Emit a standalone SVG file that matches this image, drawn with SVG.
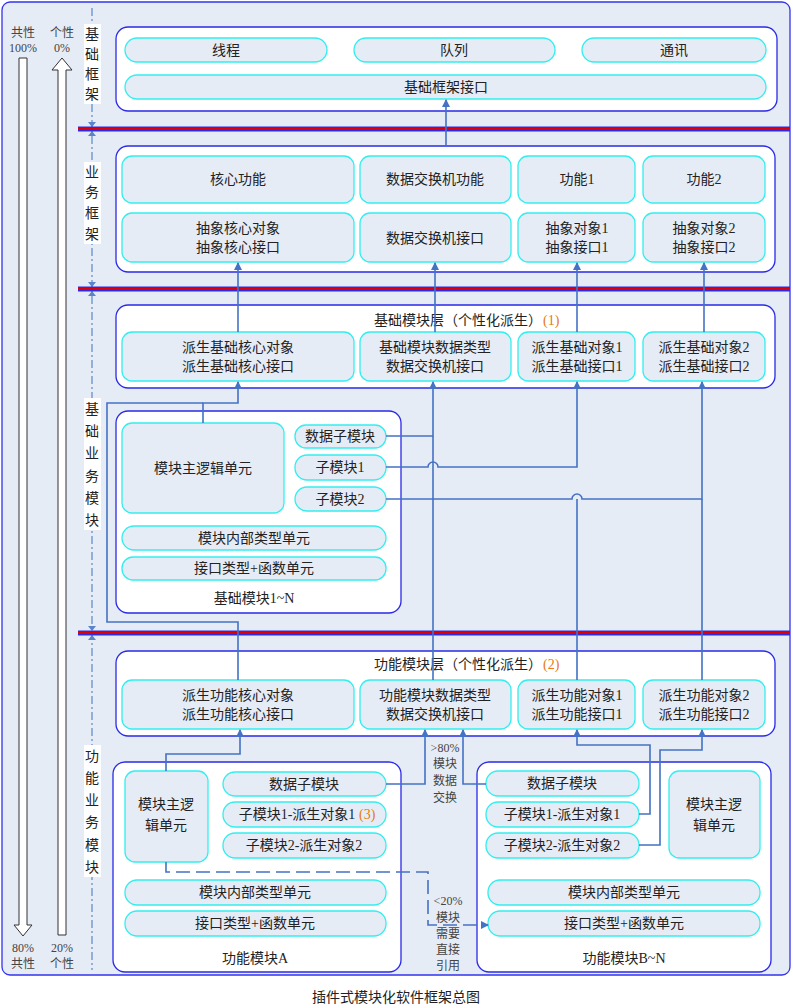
<svg xmlns="http://www.w3.org/2000/svg" width="793" height="1008" viewBox="0 0 793 1008">
<style>
text{font-family:"Liberation Serif","Noto Sans CJK SC",serif;font-size:14px;fill:#222;text-anchor:middle;dominant-baseline:central}
.sm{font-size:12px;fill:#444}
.lay{fill:#fff;stroke:#2a2ae8;stroke-width:1.3}
.bx{fill:#e6ecf6;stroke:#33eeee;stroke-width:1.3}
.c{fill:none;stroke:#4472c4;stroke-width:1.6}
.ca{fill:none;stroke:#4472c4;stroke-width:1.6;marker-end:url(#a)}
.or{fill:#e87a10;text-anchor:start}
.te{text-anchor:end}
.sepb{stroke:#2a2ae8;stroke-width:5}
.sepr{stroke:#e00000;stroke-width:2}
</style>
<defs><marker id="a" markerWidth="8" markerHeight="8" refX="7" refY="4" orient="auto" markerUnits="userSpaceOnUse"><path d="M0,0 L8,4 L0,8 Z" fill="#4472c4"/></marker></defs>
<rect x="2" y="2" width="788" height="973" rx="8" fill="#e6ecf6" stroke="#3333ee" stroke-width="1.3"/>
<text x="396" y="997">插件式模块化软件框架总图</text>
<g id="axis">
<path d="M19,58 H27 V925 H32 L23,936 L14,925 H19 Z" fill="#fff" stroke="#333"/>
<path d="M58,935 V70 H52 L62,58 L72,70 H66 V935 Z" fill="#fff" stroke="#333"/>
<text class="sm" x="23" y="33">共性</text><text class="sm" x="23" y="48">100%</text>
<text class="sm" x="62" y="33">个性</text><text class="sm" x="62" y="48">0%</text>
<text class="sm" x="23" y="948">80%</text><text class="sm" x="23" y="964">共性</text>
<text class="sm" x="62" y="948">20%</text><text class="sm" x="62" y="964">个性</text>
<line x1="92" y1="8" x2="92" y2="970" stroke="#5b85c8" stroke-width="1.2" stroke-dasharray="8,3,2,3"/>
<rect x="84" y="24" width="17" height="80" fill="#fff"/>
<text x="92" y="34">基</text><text x="92" y="54">础</text><text x="92" y="74">框</text><text x="92" y="94">架</text>
<rect x="84" y="162" width="17" height="82" fill="#fff"/>
<text x="92" y="172">业</text><text x="92" y="192">务</text><text x="92" y="213">框</text><text x="92" y="234">架</text>
<rect x="84" y="398" width="17" height="132" fill="#fff"/>
<text x="92" y="409">基</text><text x="92" y="431">础</text><text x="92" y="453">业</text><text x="92" y="476">务</text><text x="92" y="498">模</text><text x="92" y="520">块</text>
<rect x="84" y="745" width="17" height="132" fill="#fff"/>
<text x="92" y="756">功</text><text x="92" y="778">能</text><text x="92" y="800">业</text><text x="92" y="822">务</text><text x="92" y="845">模</text><text x="92" y="867">块</text>
<path d="M88,122 L96,122 L92,127Z M88,136 L96,136 L92,131Z M88,282 L96,282 L92,287Z M88,296 L96,296 L92,291Z M88,626 L96,626 L92,631Z M88,640 L96,640 L92,635Z" fill="#5b85c8"/>
</g>
<g id="separators">
<line class="sepb" x1="78" y1="129" x2="790" y2="129"/><line class="sepr" x1="78" y1="129" x2="790" y2="129"/>
<line class="sepb" x1="78" y1="289" x2="790" y2="289"/><line class="sepr" x1="78" y1="289" x2="790" y2="289"/>
<line class="sepb" x1="78" y1="633" x2="790" y2="633"/><line class="sepr" x1="78" y1="633" x2="790" y2="633"/>
</g>
<g id="layer1">
<rect class="lay" x="116" y="27" width="661" height="84" rx="12"/>
<rect class="bx" x="125" y="38" width="202" height="24" rx="12"/><text x="226" y="50">线程</text>
<rect class="bx" x="354" y="38" width="201" height="24" rx="12"/><text x="454" y="50">队列</text>
<rect class="bx" x="582" y="38" width="184" height="24" rx="12"/><text x="674" y="50">通讯</text>
<rect class="bx" x="125" y="75" width="641" height="24" rx="12"/><text x="446" y="87">基础框架接口</text>
</g>
<g id="layer2">
<rect class="lay" x="116" y="146" width="659" height="126" rx="12"/>
<rect class="bx" x="122" y="156" width="232" height="47" rx="10"/><text x="238" y="179">核心功能</text>
<rect class="bx" x="360" y="156" width="151" height="47" rx="10"/><text x="435" y="179">数据交换机功能</text>
<rect class="bx" x="518" y="156" width="117" height="47" rx="10"/><text x="577" y="179">功能1</text>
<rect class="bx" x="643" y="156" width="122" height="47" rx="10"/><text x="704" y="179">功能2</text>
<rect class="bx" x="122" y="213" width="232" height="49" rx="10"/><text x="238" y="228">抽象核心对象</text><text x="238" y="247">抽象核心接口</text>
<rect class="bx" x="360" y="213" width="151" height="49" rx="10"/><text x="435" y="238">数据交换机接口</text>
<rect class="bx" x="518" y="213" width="117" height="49" rx="10"/><text x="577" y="228">抽象对象1</text><text x="577" y="247">抽象接口1</text>
<rect class="bx" x="643" y="213" width="122" height="49" rx="10"/><text x="704" y="228">抽象对象2</text><text x="704" y="247">抽象接口2</text>
</g>
<g id="layer3">
<rect class="lay" x="116" y="305" width="659" height="83" rx="12"/>
<text class="te" x="542" y="320">基础模块层（个性化派生）</text><text class="or" x="543" y="320">(1)</text>
<rect class="bx" x="122" y="332" width="232" height="49" rx="10"/><text x="238" y="347">派生基础核心对象</text><text x="238" y="366">派生基础核心接口</text>
<rect class="bx" x="360" y="332" width="151" height="49" rx="10"/><text x="435" y="347">基础模块数据类型</text><text x="435" y="366">数据交换机接口</text>
<rect class="bx" x="518" y="332" width="117" height="49" rx="10"/><text x="577" y="347">派生基础对象1</text><text x="577" y="366">派生基础接口1</text>
<rect class="bx" x="643" y="332" width="122" height="49" rx="10"/><text x="704" y="347">派生基础对象2</text><text x="704" y="366">派生基础接口2</text>
</g>
<g id="module1">
<rect class="lay" x="116" y="411" width="285" height="202" rx="12"/>
<rect class="bx" x="122" y="423" width="162" height="90" rx="10"/><text x="203" y="468">模块主逻辑单元</text>
<rect class="bx" x="295" y="425" width="91" height="23" rx="11"/><text x="340" y="436">数据子模块</text>
<rect class="bx" x="295" y="455" width="91" height="25" rx="12"/><text x="340" y="467">子模块1</text>
<rect class="bx" x="295" y="487" width="91" height="24" rx="12"/><text x="340" y="499">子模块2</text>
<rect class="bx" x="122" y="526" width="264" height="24" rx="12"/><text x="254" y="538">模块内部类型单元</text>
<rect class="bx" x="122" y="557" width="264" height="23" rx="11"/><text x="254" y="568">接口类型+函数单元</text>
<text x="254" y="598">基础模块1~N</text>
</g>
<g id="layer4">
<rect class="lay" x="116" y="651" width="659" height="85" rx="12"/>
<text class="te" x="542" y="664">功能模块层（个性化派生）</text><text class="or" x="543" y="664">(2)</text>
<rect class="bx" x="122" y="680" width="232" height="49" rx="10"/><text x="238" y="695">派生功能核心对象</text><text x="238" y="714">派生功能核心接口</text>
<rect class="bx" x="360" y="680" width="151" height="49" rx="10"/><text x="435" y="695">功能模块数据类型</text><text x="435" y="714">数据交换机接口</text>
<rect class="bx" x="518" y="680" width="117" height="49" rx="10"/><text x="577" y="695">派生功能对象1</text><text x="577" y="714">派生功能接口1</text>
<rect class="bx" x="643" y="680" width="122" height="49" rx="10"/><text x="704" y="695">派生功能对象2</text><text x="704" y="714">派生功能接口2</text>
</g>
<g id="moduleA">
<rect class="lay" x="113" y="762" width="288" height="210" rx="12"/>
<rect class="bx" x="125" y="771" width="83" height="91" rx="10"/><text x="166" y="804">模块主逻</text><text x="166" y="825">辑单元</text>
<rect class="bx" x="223" y="772" width="163" height="24" rx="12"/><text x="304" y="784">数据子模块</text>
<rect class="bx" x="223" y="802" width="163" height="25" rx="12"/><text x="297" y="814">子模块1-派生对象1</text><text class="or" x="359" y="814">(3)</text>
<rect class="bx" x="223" y="833" width="163" height="25" rx="12"/><text x="304" y="845">子模块2-派生对象2</text>
<rect class="bx" x="125" y="880" width="261" height="25" rx="12"/><text x="255" y="892">模块内部类型单元</text>
<rect class="bx" x="125" y="911" width="261" height="25" rx="12"/><text x="255" y="923">接口类型+函数单元</text>
<text x="255" y="958">功能模块A</text>
</g>
<g id="moduleB">
<rect class="lay" x="477" y="762" width="294" height="210" rx="12"/>
<rect class="bx" x="486" y="771" width="153" height="25" rx="12"/><text x="562" y="783">数据子模块</text>
<rect class="bx" x="486" y="802" width="153" height="25" rx="12"/><text x="562" y="814">子模块1-派生对象1</text>
<rect class="bx" x="486" y="833" width="153" height="25" rx="12"/><text x="562" y="845">子模块2-派生对象2</text>
<rect class="bx" x="669" y="771" width="91" height="87" rx="10"/><text x="714" y="804">模块主逻</text><text x="714" y="825">辑单元</text>
<rect class="bx" x="488" y="880" width="272" height="25" rx="12"/><text x="624" y="892">模块内部类型单元</text>
<rect class="bx" x="488" y="911" width="272" height="25" rx="12"/><text x="624" y="923">接口类型+函数单元</text>
<text x="624" y="958">功能模块B~N</text>
</g>
<g id="connectors">
<path class="ca" d="M446,146 V100"/>
<path class="ca" d="M238,332 V263"/>
<path class="ca" d="M435,332 V263"/>
<path class="ca" d="M577,332 V263"/>
<path class="ca" d="M704,332 V263"/>
<path class="ca" d="M203,423 V403 H238 V382"/>
<path class="c" d="M203,403 H107 V622 H238 V680"/>
<path class="ca" d="M386,436 H433 V382"/>
<path class="c" d="M433,436 V680"/>
<path class="ca" d="M386,467 H428 A5,5 0 0 1 438,467 H577 V382"/>
<path class="ca" d="M386,499 H572 A5,5 0 0 1 582,499 H702 V382"/>
<path class="c" d="M577,499 V680 M702,499 V680"/>
<path class="ca" d="M166,771 V754 H240 V730"/>
<path class="ca" d="M386,784 H425 V730"/>
<path class="ca" d="M486,784 H463 V730"/>
<path class="ca" d="M639,814 H650 V745 H577 V730"/>
<path class="ca" d="M639,845 H660 V750 H702 V730"/>
<path class="ca" d="M166,862 V872 H428 V925 H488" stroke-dasharray="14,6"/>
</g>
<g id="notes">
<text class="sm" x="445" y="748">&gt;80%</text><text class="sm" x="445" y="764">模块</text><text class="sm" x="445" y="781">数据</text><text class="sm" x="445" y="798">交换</text>
<text class="sm" x="448" y="901">&lt;20%</text><text class="sm" x="448" y="918">模块</text><text class="sm" x="448" y="934">需要</text><text class="sm" x="448" y="950">直接</text><text class="sm" x="448" y="966">引用</text>
</g>
</svg>
